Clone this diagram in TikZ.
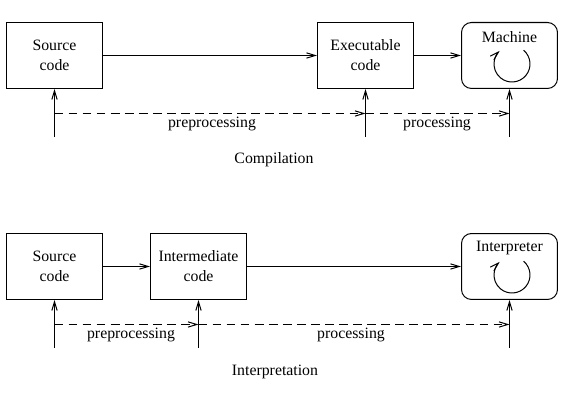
\documentclass[tikz,border=0pt]{standalone}
\usepackage{fontspec}
\setmainfont{Liberation Serif}
\usetikzlibrary{arrows.meta}

\begin{document}
\begin{tikzpicture}[x=0.02cm,y=-0.02cm,line width=0.57pt,
        every node/.style={font=\fontsize{9}{11.3}\selectfont},
        box/.style={draw,minimum width=1.92cm,minimum height=1.32cm,inner sep=0pt,align=center},
        engine/.style={box,rounded corners=0.2cm},
        flow/.style={-{Straight Barb[length=5pt,width=3pt]}},
        later/.style={flow,dash pattern=on 5pt off 3pt}]
        \useasboundingbox (0,0) rectangle (572,401);
        % compilation
        \node[box] (src) at (54.5,55.5) {Source\\code};
        \node[box] (exe) at (365.5,55.5) {Executable\\code};
        \node[engine] (mach) at (509.5,55.5) {};
        \node (machlab) at (509.5,37) {Machine};
        \coordinate (mc) at (512,64);
        \draw[flow] (mc) ++(50:0.36cm) arc[start angle=50,end angle=-227,radius=0.36cm];
        \draw[flow] (src) -- (exe);
        \draw[flow] (exe) -- (mach);
        \coordinate (a0) at (54.5,137);
        \coordinate (a1) at (365.5,137);
        \coordinate (a2) at (509.5,137);
        \draw[flow] (a0) -- (src.south);
        \draw[flow] (a1) -- (exe.south);
        \draw[flow] (a2) -- (mach.south);
        \coordinate (d0) at (54.5,113.5);
        \coordinate (d1) at (365.5,113.5);
        \coordinate (d2) at (509.5,113.5);
        \draw[later] (d0) -- (d1);
        \draw[later] (d1) -- (d2);
        \node (pre) at (212,124) {preprocessing};
        \node (proc) at (437,124) {processing};
        \node (comp) at (274,160) {Compilation};
        % interpretation
        \node[box] (src2) at (54.5,266.5) {Source\\code};
        \node[box] (mid) at (198.5,266.5) {Intermediate\\code};
        \node[engine] (interp) at (509.5,266.5) {};
        \node (interplab) at (509.5,248) {Interpreter};
        \coordinate (ic) at (512,275);
        \draw[flow] (ic) ++(50:0.36cm) arc[start angle=50,end angle=-227,radius=0.36cm];
        \draw[flow] (src2) -- (mid);
        \draw[flow] (mid) -- (interp);
        \coordinate (b0) at (54.5,348);
        \coordinate (b1) at (198.5,348);
        \coordinate (b2) at (509.5,348);
        \draw[flow] (b0) -- (src2.south);
        \draw[flow] (b1) -- (mid.south);
        \draw[flow] (b2) -- (interp.south);
        \coordinate (e0) at (54.5,324.5);
        \coordinate (e1) at (198.5,324.5);
        \coordinate (e2) at (509.5,324.5);
        \draw[later] (e0) -- (e1);
        \draw[later] (e1) -- (e2);
        \node (pre2) at (131,335) {preprocessing};
        \node (proc2) at (351,335) {processing};
        \node (inter) at (275,372) {Interpretation};
\end{tikzpicture}
\end{document}
